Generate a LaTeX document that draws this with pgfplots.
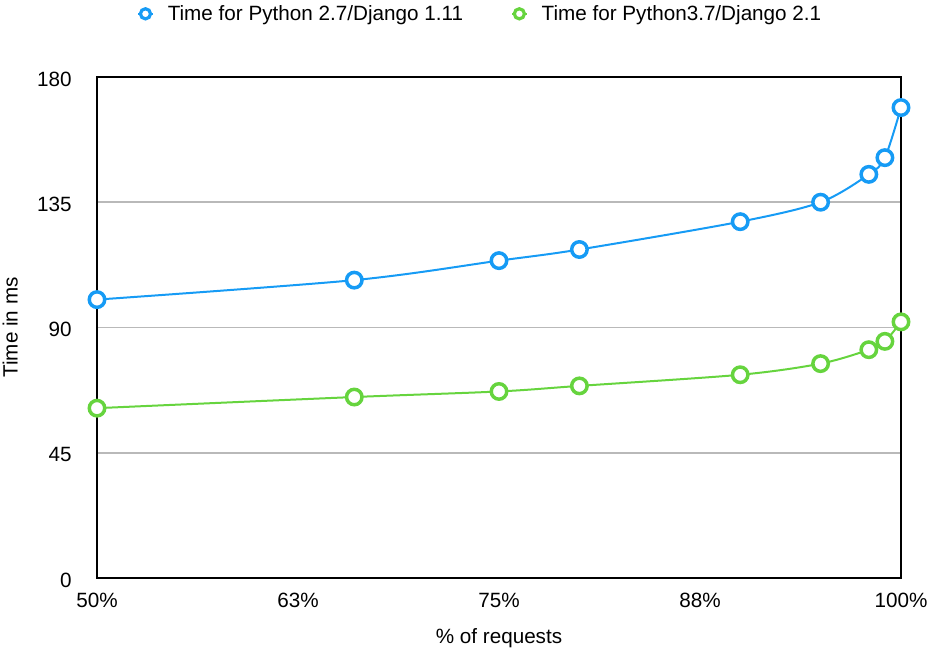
\documentclass[border=0pt]{standalone}
\usepackage{pgfplots}
\pgfplotsset{compat=1.18}
\usepackage{fontspec}
\setmainfont{Liberation Sans}
\definecolor{pyblue}{RGB}{22,155,245}
\definecolor{pygreen}{RGB}{102,212,62}
\definecolor{gridgray}{RGB}{185,185,185}
\begin{document}
\begin{tikzpicture}
\begin{axis}[
    at={(0,0)}, anchor=south west,
    scale only axis,
    width=603pt, height=375.75pt,
    xmin=50, xmax=100,
    ymin=0, ymax=180,
    xtick={50,62.5,75,87.5,100},
    xticklabels={50\%,63\%,75\%,88\%,100\%},
    ytick={0,45,90,135,180},
    major tick length=0pt,
    ymajorgrids,
    grid style={gridgray, line width=1.4pt},
    axis line style={black, line width=1.3pt},
    tick label style={font=\fontsize{15.5}{18}\selectfont, inner sep=0pt},
    label style={font=\fontsize{15.5}{18}\selectfont, inner sep=0pt},
    /pgf/number format/assume math mode=true,
    yticklabel style={xshift=-18.75pt, yshift=-1.5pt},
    xticklabel style={yshift=-11.25pt},
    xlabel={\% of requests},
    ylabel={Time in ms},
    xlabel style={at={(axis description cs:0.5,0)}, anchor=north, yshift=-38pt},
    % rotated 90 degrees: south is the right side, +y points left
    ylabel style={at={(axis description cs:0,0.5)}, anchor=south, yshift=59.25pt},
    legend style={at={(0.477,1.126)}, anchor=center, draw=none, fill=none,
        legend columns=2, font=\fontsize{15.5}{18}\selectfont,
        /tikz/every even column/.append style={column sep=34pt}},
    legend cell align=left,
    legend image code/.code={
        \draw[mark repeat=2, mark phase=2, line width=1.5pt, mark size=3.8pt,
            mark options={fill=white, line width=2.4pt}]
            plot coordinates {(0pt,0pt) (5.5pt,0pt) (11pt,0pt)};
        \path (19.5pt,0pt);
    },
]
\addplot[pyblue, line width=1.5pt, smooth, tension=0.5,
    mark=*, mark size=5.8pt, mark options={fill=white, draw=pyblue, line width=2.6pt}]
coordinates {
    (50,100) (66,107) (75,114) (80,118) (90,128)
    (95,135) (98,145) (99,151) (100,169)
};
\addlegendentry{Time for Python 2.7/Django 1.11}
\addplot[pygreen, line width=1.5pt, smooth, tension=0.5,
    mark=*, mark size=5.8pt, mark options={fill=white, draw=pygreen, line width=2.6pt}]
coordinates {
    (50,61) (66,65) (75,67) (80,69) (90,73)
    (95,77) (98,82) (99,85) (100,92)
};
\addlegendentry{Time for Python3.7/Django 2.1}
\end{axis}
% whole picture 929x649 px (1px = 0.75pt), axis box at origin
\path (-72.75pt,-53.25pt) rectangle (624pt,429pt);
\end{tikzpicture}
\end{document}
